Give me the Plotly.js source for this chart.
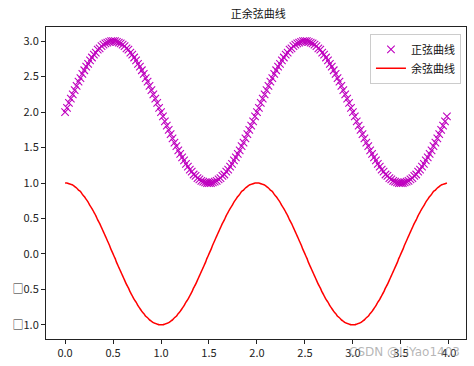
<!DOCTYPE html>
<html>
<head>
<meta charset="utf-8">
<script src="https://cdn.plot.ly/plotly-3.0.1.min.js"></script>
<style>html,body{margin:0;padding:0;background:#fff;}#chart{width:474px;height:366px;}</style>
</head>
<body>
<div id="chart"></div>
<script>
var xValues = [
0.00,0.02,0.04,0.06,0.08,0.10,0.12,0.14,0.16,0.18,0.20,0.22,0.24,0.26,0.28,0.30,0.32,0.34,0.36,0.38,
0.40,0.42,0.44,0.46,0.48,0.50,0.52,0.54,0.56,0.58,0.60,0.62,0.64,0.66,0.68,0.70,0.72,0.74,0.76,0.78,
0.80,0.82,0.84,0.86,0.88,0.90,0.92,0.94,0.96,0.98,1.00,1.02,1.04,1.06,1.08,1.10,1.12,1.14,1.16,1.18,
1.20,1.22,1.24,1.26,1.28,1.30,1.32,1.34,1.36,1.38,1.40,1.42,1.44,1.46,1.48,1.50,1.52,1.54,1.56,1.58,
1.60,1.62,1.64,1.66,1.68,1.70,1.72,1.74,1.76,1.78,1.80,1.82,1.84,1.86,1.88,1.90,1.92,1.94,1.96,1.98,
2.00,2.02,2.04,2.06,2.08,2.10,2.12,2.14,2.16,2.18,2.20,2.22,2.24,2.26,2.28,2.30,2.32,2.34,2.36,2.38,
2.40,2.42,2.44,2.46,2.48,2.50,2.52,2.54,2.56,2.58,2.60,2.62,2.64,2.66,2.68,2.70,2.72,2.74,2.76,2.78,
2.80,2.82,2.84,2.86,2.88,2.90,2.92,2.94,2.96,2.98,3.00,3.02,3.04,3.06,3.08,3.10,3.12,3.14,3.16,3.18,
3.20,3.22,3.24,3.26,3.28,3.30,3.32,3.34,3.36,3.38,3.40,3.42,3.44,3.46,3.48,3.50,3.52,3.54,3.56,3.58,
3.60,3.62,3.64,3.66,3.68,3.70,3.72,3.74,3.76,3.78,3.80,3.82,3.84,3.86,3.88,3.90,3.92,3.94,3.96,3.98
];
var sineValues = [
2.00,2.06,2.13,2.19,2.25,2.31,2.37,2.43,2.48,2.54,2.59,2.64,2.68,2.73,2.77,2.81,2.84,2.88,2.90,2.93,
2.95,2.97,2.98,2.99,3.00,3.00,3.00,2.99,2.98,2.97,2.95,2.93,2.90,2.88,2.84,2.81,2.77,2.73,2.68,2.64,
2.59,2.54,2.48,2.43,2.37,2.31,2.25,2.19,2.13,2.06,2.00,1.94,1.87,1.81,1.75,1.69,1.63,1.57,1.52,1.46,
1.41,1.36,1.32,1.27,1.23,1.19,1.16,1.12,1.10,1.07,1.05,1.03,1.02,1.01,1.00,1.00,1.00,1.01,1.02,1.03,
1.05,1.07,1.10,1.12,1.16,1.19,1.23,1.27,1.32,1.36,1.41,1.46,1.52,1.57,1.63,1.69,1.75,1.81,1.87,1.94,
2.00,2.06,2.13,2.19,2.25,2.31,2.37,2.43,2.48,2.54,2.59,2.64,2.68,2.73,2.77,2.81,2.84,2.88,2.90,2.93,
2.95,2.97,2.98,2.99,3.00,3.00,3.00,2.99,2.98,2.97,2.95,2.93,2.90,2.88,2.84,2.81,2.77,2.73,2.68,2.64,
2.59,2.54,2.48,2.43,2.37,2.31,2.25,2.19,2.13,2.06,2.00,1.94,1.87,1.81,1.75,1.69,1.63,1.57,1.52,1.46,
1.41,1.36,1.32,1.27,1.23,1.19,1.16,1.12,1.10,1.07,1.05,1.03,1.02,1.01,1.00,1.00,1.00,1.01,1.02,1.03,
1.05,1.07,1.10,1.12,1.16,1.19,1.23,1.27,1.32,1.36,1.41,1.46,1.52,1.57,1.63,1.69,1.75,1.81,1.87,1.94
];
var cosineValues = [
1.00,1.00,0.99,0.98,0.97,0.95,0.93,0.90,0.88,0.84,0.81,0.77,0.73,0.68,0.64,0.59,0.54,0.48,0.43,0.37,
0.31,0.25,0.19,0.13,0.06,0.00,-0.06,-0.13,-0.19,-0.25,-0.31,-0.37,-0.43,-0.48,-0.54,-0.59,-0.64,-0.68,-0.73,-0.77,
-0.81,-0.84,-0.88,-0.90,-0.93,-0.95,-0.97,-0.98,-0.99,-1.00,-1.00,-1.00,-0.99,-0.98,-0.97,-0.95,-0.93,-0.90,-0.88,-0.84,
-0.81,-0.77,-0.73,-0.68,-0.64,-0.59,-0.54,-0.48,-0.43,-0.37,-0.31,-0.25,-0.19,-0.13,-0.06,0.00,0.06,0.13,0.19,0.25,
0.31,0.37,0.43,0.48,0.54,0.59,0.64,0.68,0.73,0.77,0.81,0.84,0.88,0.90,0.93,0.95,0.97,0.98,0.99,1.00,
1.00,1.00,0.99,0.98,0.97,0.95,0.93,0.90,0.88,0.84,0.81,0.77,0.73,0.68,0.64,0.59,0.54,0.48,0.43,0.37,
0.31,0.25,0.19,0.13,0.06,0.00,-0.06,-0.13,-0.19,-0.25,-0.31,-0.37,-0.43,-0.48,-0.54,-0.59,-0.64,-0.68,-0.73,-0.77,
-0.81,-0.84,-0.88,-0.90,-0.93,-0.95,-0.97,-0.98,-0.99,-1.00,-1.00,-1.00,-0.99,-0.98,-0.97,-0.95,-0.93,-0.90,-0.88,-0.84,
-0.81,-0.77,-0.73,-0.68,-0.64,-0.59,-0.54,-0.48,-0.43,-0.37,-0.31,-0.25,-0.19,-0.13,-0.06,0.00,0.06,0.13,0.19,0.25,
0.31,0.37,0.43,0.48,0.54,0.59,0.64,0.68,0.73,0.77,0.81,0.84,0.88,0.90,0.93,0.95,0.97,0.98,0.99,1.00
];
var xTickVals = [0, 0.5, 1, 1.5, 2, 2.5, 3, 3.5, 4];
var xTickText = ["0.0", "0.5", "1.0", "1.5", "2.0", "2.5", "3.0", "3.5", "4.0"];
var yTickVals = [-1, -0.5, 0, 0.5, 1, 1.5, 2, 2.5, 3];
var yTickText = ["\u25A11.0", "\u25A10.5", "0.0", "0.5", "1.0", "1.5", "2.0", "2.5", "3.0"];
var seriesNames = ["正弦曲线", "余弦曲线"];
var chartTitle = "正余弦曲线";
var watermark = "CSDN @LiYao1403";

var fontFam = "'Noto Sans CJK SC', 'DejaVu Sans', sans-serif";
var traces = [
  {
    x: xValues, y: sineValues, name: seriesNames[0], type: "scatter", mode: "markers",
    marker: {symbol: "x-thin", size: 7.5, color: "#bf00bf", line: {color: "#bf00bf", width: 1.1}}
  },
  {
    x: xValues, y: cosineValues, name: seriesNames[1], type: "scatter", mode: "lines",
    line: {color: "#ff0000", width: 1.5, simplify: false, shape: "spline", smoothing: 0.6}
  }
];
var axisCommon = {
  showline: true, linecolor: "#222", linewidth: 1, mirror: true,
  ticks: "outside", ticklen: 4, tickcolor: "#222", tickwidth: 1,
  showgrid: false, zeroline: false,
  tickfont: {family: fontFam, size: 11, color: "#222"}, tickmode: "array"
};
var layout = {
  width: 474, height: 366,
  margin: {l: 46, r: 8, t: 27, b: 27},
  paper_bgcolor: "#fff", plot_bgcolor: "#fff",
  title: {text: chartTitle, x: 0.545, xanchor: "center", y: 0.962, yanchor: "middle",
          font: {family: fontFam, size: 11, color: "#111"}},
  xaxis: Object.assign({}, axisCommon, {range: [-0.199, 4.179], tickvals: xTickVals, ticktext: xTickText}),
  yaxis: Object.assign({}, axisCommon, {range: [-1.2, 3.2], tickvals: yTickVals, ticktext: yTickText}),
  showlegend: true,
  legend: {x: 0.988, xanchor: "right", y: 0.978, yanchor: "top",
           bgcolor: "rgba(255,255,255,0.8)", bordercolor: "#ccc", borderwidth: 1,
           font: {family: fontFam, size: 11, color: "#111"}, tracegroupgap: 0},
  annotations: [
    {text: watermark, xref: "paper", yref: "paper", x: 0.99, xanchor: "right", y: -0.043, yanchor: "middle",
     showarrow: false, font: {family: "'DejaVu Sans', sans-serif", size: 12, color: "rgba(150,150,150,0.7)"}}
  ]
};
Plotly.newPlot("chart", traces, layout, {displayModeBar: false, staticPlot: true});
</script>
</body>
</html>
